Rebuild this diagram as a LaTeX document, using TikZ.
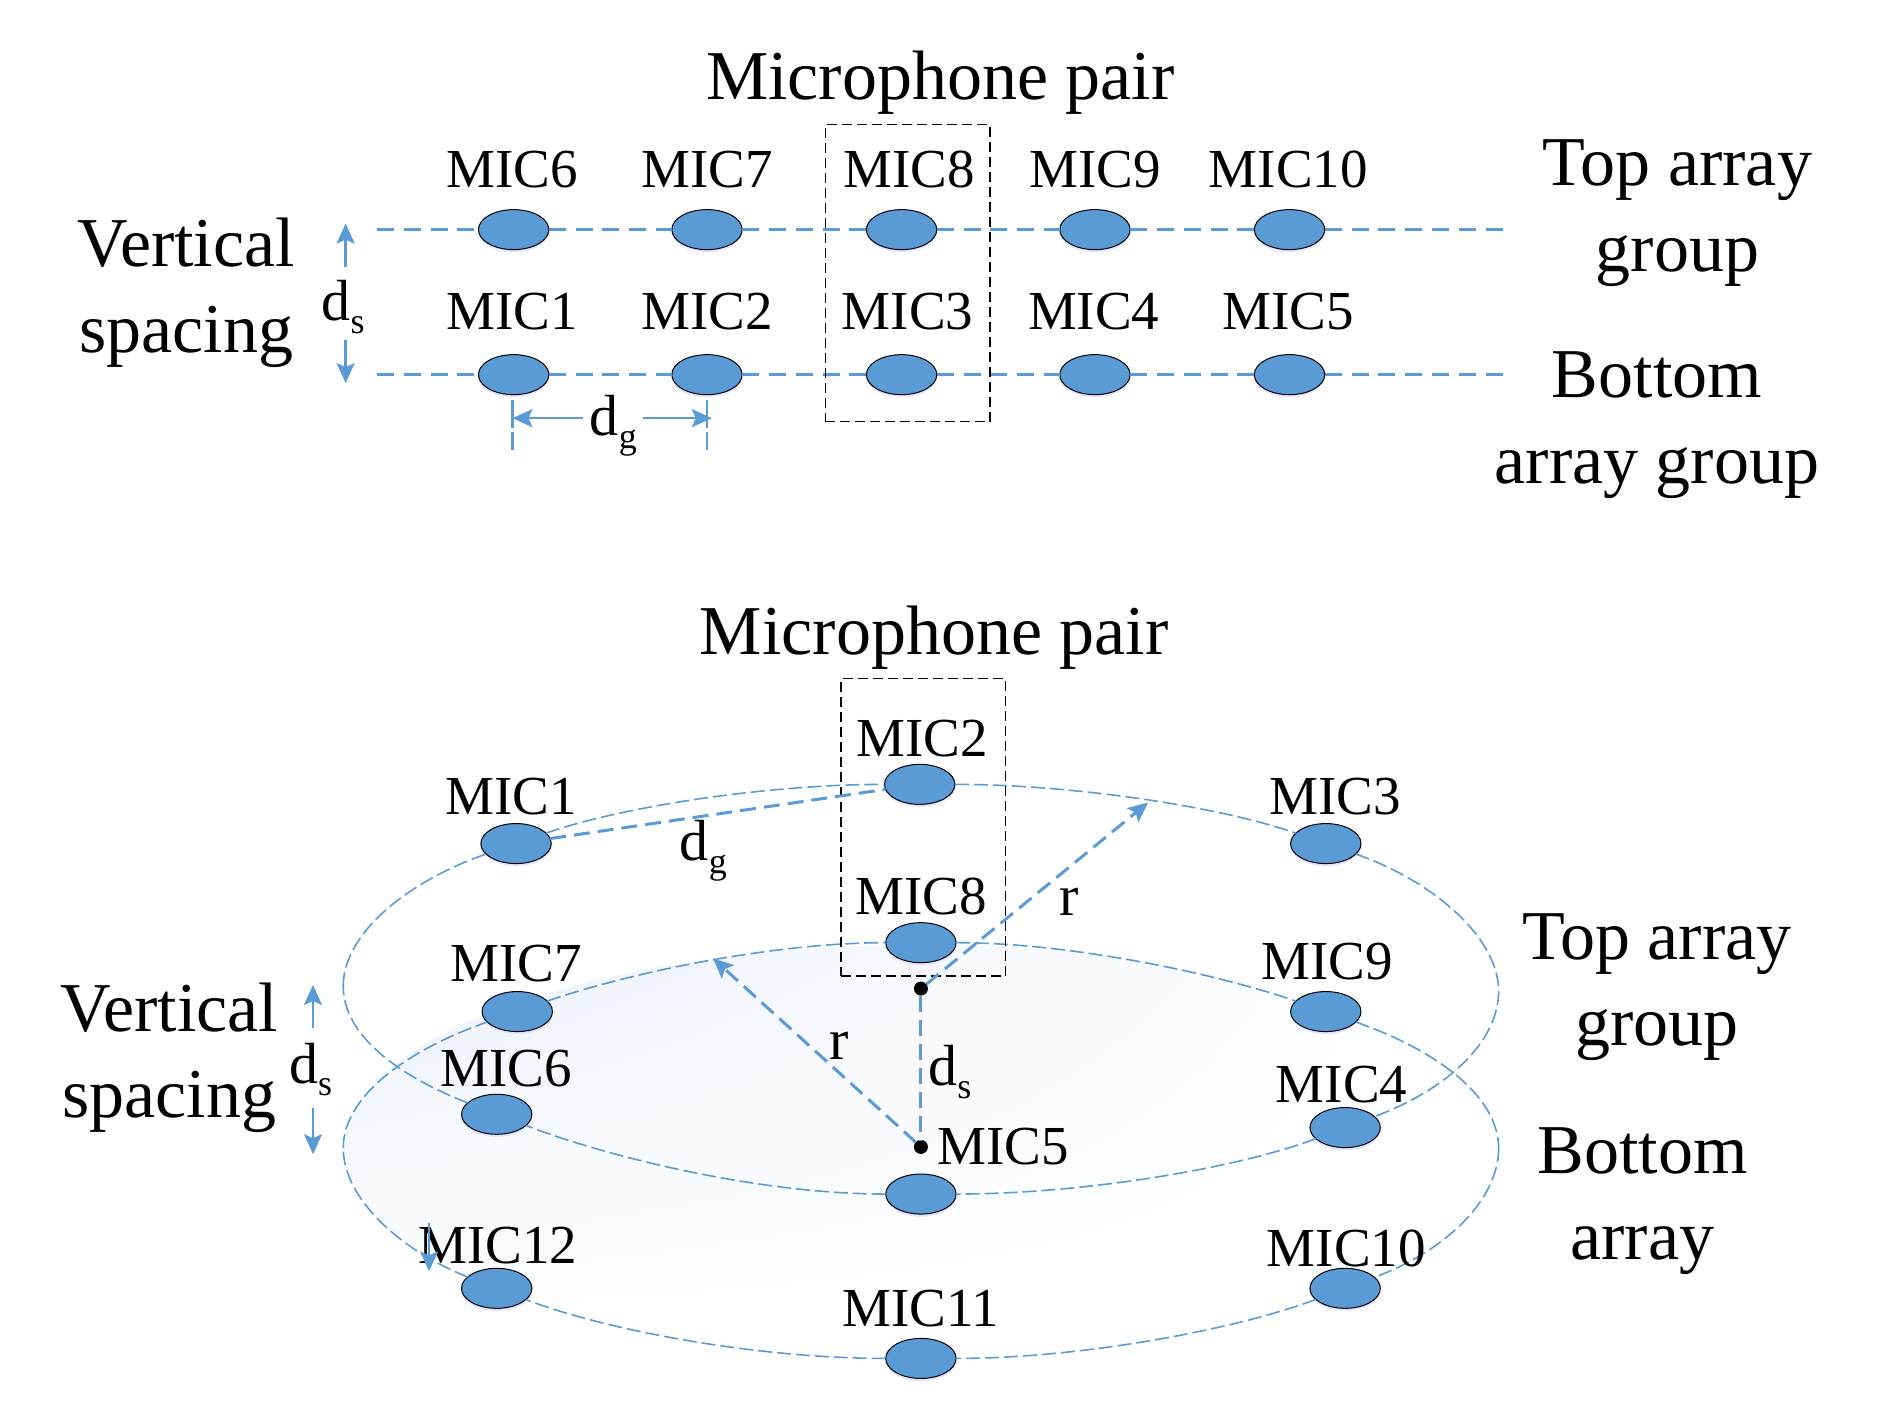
\documentclass[tikz,border=0pt]{standalone}
\usepackage{fontspec}
\setmainfont{Liberation Serif}
\usetikzlibrary{arrows.meta,shapes.geometric,shadows,shadings}
\definecolor{micblue}{HTML}{5B9BD5}
\definecolor{shadeblue}{HTML}{ECF1FA}
\newcommand{\dsub}[1]{d\raisebox{-0.22em}{\fontsize{18}{18}\selectfont #1}}

\begin{document}
\begin{tikzpicture}[x=0.60425pt,y=-0.60425pt,
    mic/.style={ellipse,draw=black,line width=0.5pt,fill=micblue,
        minimum width=35.2pt,minimum height=20pt,inner sep=0pt,outer sep=0pt,
        drop shadow={shadow xshift=0pt,shadow yshift=-1.3pt,opacity=1,fill=blue!10}},
    miclabel/.style={font=\fontsize{27.5}{27.5}\selectfont,inner sep=0pt},
    biglabel/.style={font=\fontsize{35}{43}\selectfont,inner sep=0pt,align=center},
    dlabel/.style={font=\fontsize{29}{29}\selectfont,inner sep=0pt},
    guide/.style={draw=micblue,line width=1.5pt,dash pattern=on 8.5pt off 4.9pt},
    dimline/.style={draw=micblue,line width=1.5pt,dash pattern=on 8pt off 4pt},
    ring/.style={draw=micblue,line width=0.8pt,dash pattern=on 7pt off 2.5pt},
    dimarrow/.style={draw=micblue,line width=1.3pt,-{Stealth[length=10pt,width=9pt,inset=2pt]}},
    dashtip/.style={dimline,-{Stealth[length=10pt,width=9pt,inset=2pt]}},
    pairbox/.style={rectangle,draw=black,line width=0.7pt,dash pattern=on 5pt off 2.5pt,
        inner sep=0pt,minimum width=82.4pt,minimum height=148.6pt},
    dot/.style={circle,fill=black,inner sep=0pt,outer sep=0pt,minimum size=7pt}]

\useasboundingbox (0,0) rectangle (1568,1170);

% shaded bottom array
\shade[upper left=shadeblue,upper right=white,lower left=white,lower right=white]
    (762,950) ellipse [x radius=478,y radius=168];

%top linear array
\foreach \n/\x/\y in {t6/425/190,t7/585/190,t8/746/190,t9/906/190,t10/1067/190,
    t1/425/310,t2/585/310,t3/746/310,t4/906/310,t5/1067/310}
    \node[mic] (\n) at (\x,\y) {};

\coordinate (tl) at (312,190);
\coordinate (tr) at (1244,190);
\coordinate (bl) at (312,310);
\coordinate (br) at (1244,310);
\draw[guide] (tl) edge (t6) (t6) edge (t7) (t7) edge (t8) (t8) edge (t9) (t9) edge (t10) (t10) edge (tr);
\draw[guide] (bl) edge (t1) (t1) edge (t2) (t2) edge (t3) (t3) edge (t4) (t4) edge (t5) (t5) edge (br);

\node[pairbox] (box1) at (751,226) {};

\node[miclabel] (l6) at (424,140) {MIC6};
\node[miclabel] (l7) at (585,140) {MIC7};
\node[miclabel] (l8) at (752,140) {MIC8};
\node[miclabel] (l9) at (906,140) {MIC9};
\node[miclabel] (l10) at (1066,140) {MIC10};
\node[miclabel] (l1) at (424,258) {MIC1};
\node[miclabel] (l2) at (585,258) {MIC2};
\node[miclabel] (l3) at (751,258) {MIC3};
\node[miclabel] (l4) at (905,258) {MIC4};
\node[miclabel] (l5) at (1066,258) {MIC5};

\node[biglabel] (title1) at (778,68) {Microphone pair};
\node[biglabel] (topgroup1) at (1388,176) {Top array\\group};
\node[biglabel] (botgroup1) at (1371,352) {Bottom\\array group};
\node[biglabel] (vert1) at (154,242.5) {Vertical\\spacing};

\node[dlabel] (ds1) at (284,254) {\dsub{s}};
\coordinate (ds1up) at (286,185);
\coordinate (ds1upb) at (286,221);
\coordinate (ds1dn) at (286,317);
\coordinate (ds1dnb) at (286,281);
\draw[dimarrow] (ds1upb) -- (ds1up);
\draw[dimarrow] (ds1dnb) -- (ds1dn);

\node[dlabel] (dg1) at (507.5,352) {\dsub{g}};
\coordinate (dga) at (482,346);
\coordinate (dgat) at (424,346);
\coordinate (dgb) at (532,346);
\coordinate (dgbt) at (589,346);
\draw[dimarrow] (dga) -- (dgat);
\draw[dimarrow] (dgb) -- (dgbt);
\coordinate (tick1a) at (424,331);
\coordinate (tick1b) at (424,372);
\coordinate (tick2a) at (585,331);
\coordinate (tick2b) at (585,372);
\draw[draw=micblue,line width=1.2pt,dash pattern=on 14pt off 2pt] (tick1a) -- (tick1b);
\draw[draw=micblue,line width=1.2pt,dash pattern=on 14pt off 2pt] (tick2a) -- (tick2b);

%circular array
\foreach \n/\x/\y in {m2/761/649,m8/762/780,m1/427/698,m3/1097/698,m7/428/837,m9/1097/837,
    m6/411/922,m4/1113/933,m5/762/988,m12/411/1066,m10/1113/1066,m11/762/1124}
    \node[mic] (\n) at (\x,\y) {};

\coordinate (ler) at (284,816);
\coordinate (rer) at (1240,820);
\coordinate (leb) at (284,950);
\coordinate (reb) at (1240,950);

% top ring
\path[ring] (m2) .. controls +(125,0) and +(-89,-31) .. (m3);
\path[ring] (m3) .. controls +(89,31) and +(0,-44) .. (rer);
\path[ring] (rer) .. controls +(0,43) and +(83,-31) .. (m4);
\path[ring] (m4) .. controls +(-90,34) and +(133,0) .. (m5);
\path[ring] (m5) .. controls +(-135,0) and +(91,35) .. (m6);
\path[ring] (m6) .. controls +(-79,-31) and +(0,42) .. (ler);
\path[ring] (ler) .. controls +(0,-44) and +(-89,31) .. (m1);
\path[ring] (m1) .. controls +(89,-31) and +(-125,0) .. (m2);

% bottom ring
\path[ring] (m8) .. controls +(125,0) and +(-89,-31) .. (m9);
\path[ring] (m9) .. controls +(89,31) and +(0,-44) .. (reb);
\path[ring] (reb) .. controls +(0,43) and +(83,-31) .. (m10);
\path[ring] (m10) .. controls +(-90,34) and +(133,0) .. (m11);
\path[ring] (m11) .. controls +(-135,0) and +(91,35) .. (m12);
\path[ring] (m12) .. controls +(-79,-31) and +(0,42) .. (leb);
\path[ring] (leb) .. controls +(0,-44) and +(-89,31) .. (m7);
\path[ring] (m7) .. controls +(89,-31) and +(-125,0) .. (m8);

\node[pairbox] (box2) at (764,684.5) {};

\node[dot] (ctop) at (762,818) {};
\node[dot] (cbot) at (762,949) {};
\coordinate (rtop) at (950,664);
\coordinate (rbot) at (590,793);
\draw[dashtip] (ctop) -- (rtop);
\draw[dashtip] (cbot) -- (rbot);
\draw[dimline] (ctop) -- (cbot);
\draw[dimline] (m1) -- (m2);

\node[miclabel] (n2) at (763,611) {MIC2};
\node[miclabel] (n8) at (762,742) {MIC8};
\node[miclabel] (n1) at (423,659) {MIC1};
\node[miclabel] (n3) at (1105,659) {MIC3};
\node[miclabel] (n7) at (427,797) {MIC7};
\node[miclabel] (n9) at (1098,796) {MIC9};
\node[miclabel] (n6) at (419,884) {MIC6};
\node[miclabel] (n4) at (1110,897) {MIC4};
\node[miclabel] (n5) at (830,949) {MIC5};
\node[miclabel] (n12) at (412,1031) {MIC12};
\node[miclabel] (n10) at (1114,1033) {MIC10};
\node[miclabel] (n11) at (762,1083) {MIC11};

\node[biglabel] (title2) at (773,528) {Microphone pair};
\node[biglabel] (topgroup2) at (1371,816.5) {Top array\\group};
\node[biglabel] (botgroup2) at (1359,993.5) {Bottom\\array};
\node[biglabel] (vert2) at (140,875) {Vertical\\spacing};

\node[dlabel] (ds2) at (257,885) {\dsub{s}};
\coordinate (ds2up) at (259,815);
\coordinate (ds2upb) at (259,851);
\coordinate (ds2dn) at (259,955);
\coordinate (ds2dnb) at (259,917);
\draw[dimarrow] (ds2upb) -- (ds2up);
\draw[dimarrow] (ds2dnb) -- (ds2dn);

\coordinate (strayb) at (355,1012);
\coordinate (stray) at (355,1052);
\draw[dimarrow] (strayb) -- (stray);

\node[dlabel] (dg2) at (582,704) {\dsub{g}};
\node[dlabel] (ds3) at (786,887) {\dsub{s}};
\node[dlabel] (r1) at (694,865) {r};
\node[dlabel] (r2) at (885,746) {r};
\end{tikzpicture}
\end{document}
